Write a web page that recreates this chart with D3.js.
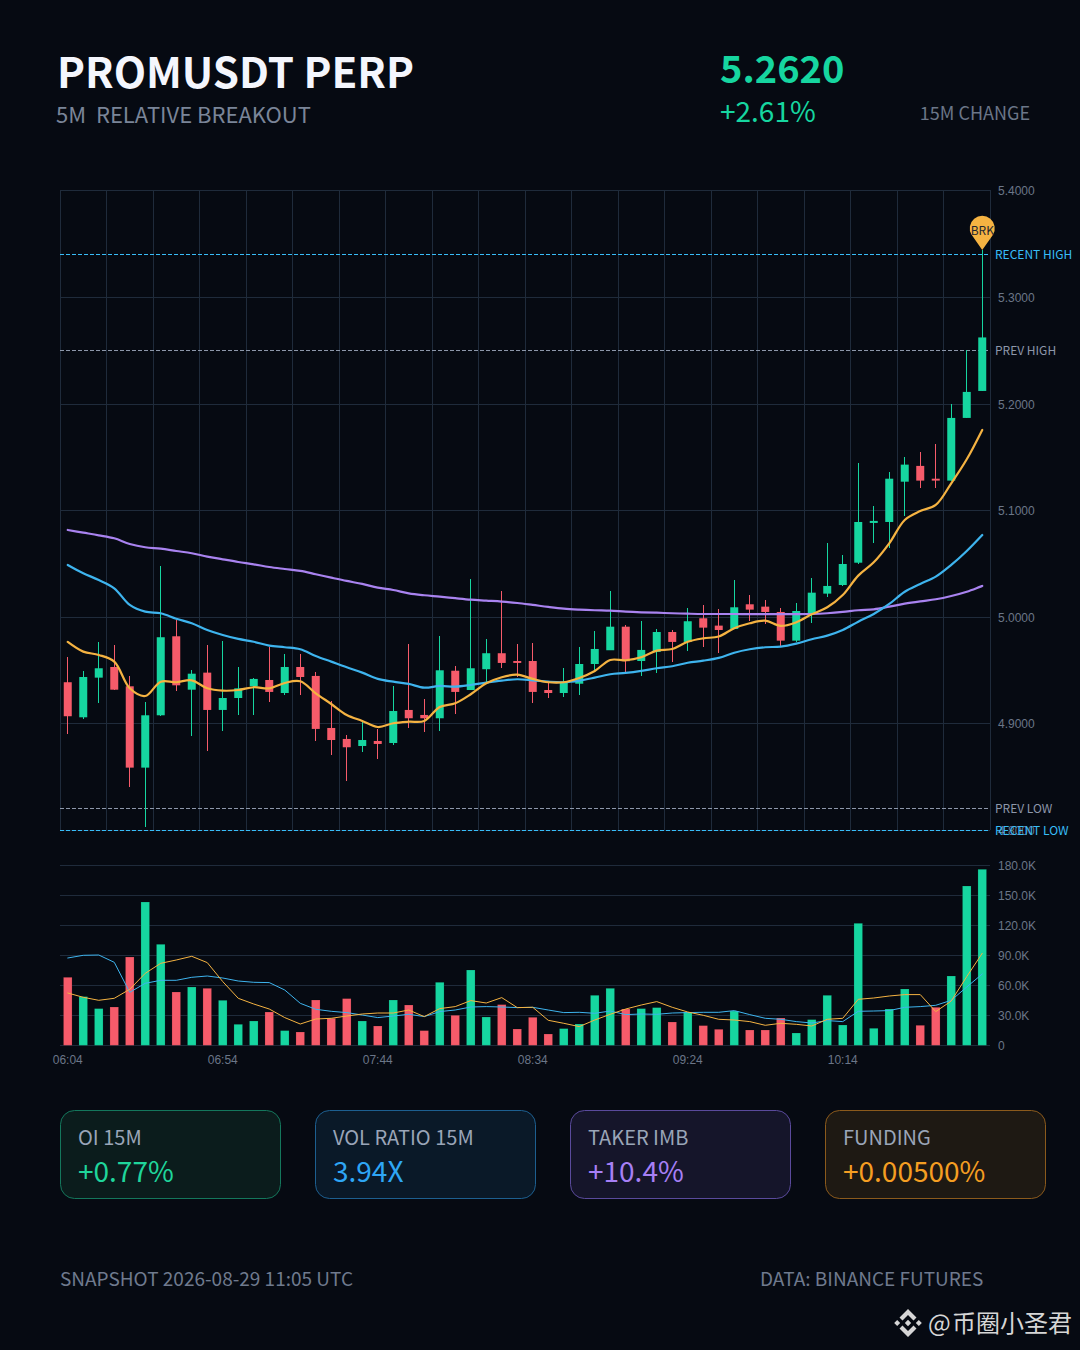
<!DOCTYPE html>
<html>
<head>
<meta charset="utf-8">
<script src="https://cdn.jsdelivr.net/npm/d3@7"></script>
<style>
  html, body { margin: 0; padding: 0; background: #060a12; }
  svg { display: block; font-family: "Noto Sans CJK SC", "Noto Sans", sans-serif; }
</style>
</head>
<body>
<div id="chart"></div>
<script>
// ------------------------------- DATA ------------------------------------
var times = ['06:04','06:09','06:14','06:19','06:24','06:29','06:34','06:39','06:44','06:49',
  '06:54','06:59','07:04','07:09','07:14','07:19','07:24','07:29','07:34','07:39',
  '07:44','07:49','07:54','07:59','08:04','08:09','08:14','08:19','08:24','08:29',
  '08:34','08:39','08:44','08:49','08:54','08:59','09:04','09:09','09:14','09:19',
  '09:24','09:29','09:34','09:39','09:44','09:49','09:54','09:59','10:04','10:09',
  '10:14','10:19','10:24','10:29','10:34','10:39','10:44','10:49','10:54','10:59'];
var timeLabels = ['06:04','06:54','07:44','08:34','09:24','10:14'];

var opens = [4.9386,4.9057,4.9429,4.9529,4.9348,4.8585,4.9076,4.9817,4.9316,4.9476,
  4.9126,4.9238,4.9348,4.9407,4.9285,4.9529,4.9445,4.8957,4.8854,4.8788,
  4.8835,4.8816,4.9126,4.9079,4.9048,4.9494,4.9313,4.9508,4.9658,4.9585,
  4.9585,4.9313,4.9285,4.9372,4.9557,4.9686,4.9907,4.9585,4.9670,4.9857,
  4.9764,4.9986,4.9917,4.9886,5.0117,5.0095,5.0045,4.9776,5.0026,5.0217,
  5.0298,5.0507,5.0880,5.0889,5.1267,5.1415,5.1295,5.1277,5.1865,5.2118];
var highs = [4.9623,4.9492,4.9764,4.9733,4.9445,4.9201,5.0474,4.9970,4.9501,4.9733,
  4.9770,4.9529,4.9426,4.9717,4.9651,4.9651,4.9482,4.9210,4.8891,4.9023,
  4.8945,4.9351,4.9745,4.9229,4.9820,4.9541,5.0355,4.9792,5.0242,4.9745,
  4.9751,4.9388,4.9520,4.9714,4.9864,5.0242,4.9923,4.9961,4.9883,4.9876,
  5.0083,5.0111,5.0073,5.0345,5.0204,5.0155,5.0083,5.0132,5.0364,5.0692,
  5.0580,5.1443,5.1042,5.1361,5.1502,5.1543,5.1621,5.1993,5.2500,5.3440];
var lows = [4.8903,4.9041,4.9191,4.9316,4.8401,4.8031,4.9072,4.9301,4.8882,4.8744,
  4.8932,4.9079,4.9079,4.9201,4.9269,4.9269,4.8838,4.8706,4.8460,4.8732,
  4.8669,4.8797,4.8960,4.8919,4.8929,4.9088,4.9313,4.9388,4.9520,4.9433,
  4.9191,4.9238,4.9248,4.9269,4.9501,4.9686,4.9470,4.9442,4.9473,4.9579,
  4.9679,4.9720,4.9663,4.9886,4.9961,4.9932,4.9729,4.9764,4.9945,5.0183,
  5.0289,5.0495,5.0695,5.0648,5.0943,5.1211,5.1211,5.1277,5.1865,5.2118];
var closes = [4.9067,4.9435,4.9517,4.9316,4.8585,4.9076,4.9808,4.9357,4.9466,4.9126,
  4.9238,4.9329,4.9417,4.9295,4.9529,4.9435,4.8948,4.8844,4.8776,4.8844,
  4.8807,4.9116,4.9048,4.9048,4.9498,4.9295,4.9517,4.9658,4.9567,4.9567,
  4.9295,4.9285,4.9388,4.9557,4.9698,4.9907,4.9583,4.9689,4.9857,4.9764,
  4.9958,4.9898,4.9876,5.0089,5.0067,5.0045,4.9776,5.0054,5.0226,5.0289,
  5.0495,5.0889,5.0899,5.1295,5.1427,5.1277,5.1277,5.1865,5.2109,5.2620];

var emaFast = [4.9764,4.9673,4.9642,4.9579,4.9329,4.9257,4.9391,4.9386,4.9404,4.9329,
  4.9307,4.9313,4.9339,4.9329,4.9379,4.9395,4.9282,4.9182,4.9079,4.9023,
  4.8966,4.9001,4.9016,4.9023,4.9154,4.9189,4.9273,4.9376,4.9433,4.9457,
  4.9417,4.9386,4.9386,4.9426,4.9492,4.9595,4.9592,4.9620,4.9682,4.9698,
  4.9766,4.9798,4.9815,4.9892,4.9939,4.9963,4.9914,4.9948,5.0023,5.0089,
  5.0204,5.0386,5.0511,5.0689,5.0908,5.0992,5.1049,5.1252,5.1477,5.1752];
var emaMid = [5.0486,5.0408,5.0345,5.0267,5.0111,5.0048,5.0033,4.9982,4.9939,4.9876,
  4.9829,4.9792,4.9766,4.9729,4.9714,4.9695,4.9632,4.9579,4.9526,4.9476,
  4.9417,4.9391,4.9370,4.9335,4.9351,4.9344,4.9360,4.9382,4.9401,4.9414,
  4.9404,4.9391,4.9386,4.9401,4.9429,4.9461,4.9473,4.9492,4.9517,4.9536,
  4.9569,4.9588,4.9614,4.9663,4.9695,4.9714,4.9720,4.9748,4.9789,4.9823,
  4.9876,4.9954,5.0026,5.0120,5.0235,5.0308,5.0376,5.0486,5.0617,5.0767];
var emaSlow = [5.0814,5.0789,5.0764,5.0736,5.0683,5.0652,5.0639,5.0617,5.0596,5.0564,
  5.0539,5.0514,5.0492,5.0467,5.0448,5.0430,5.0399,5.0367,5.0336,5.0308,
  5.0273,5.0251,5.0220,5.0202,5.0189,5.0174,5.0160,5.0151,5.0142,5.0129,
  5.0111,5.0092,5.0076,5.0067,5.0061,5.0057,5.0048,5.0042,5.0038,5.0033,
  5.0029,5.0026,5.0026,5.0026,5.0025,5.0025,5.0025,5.0025,5.0026,5.0033,
  5.0045,5.0061,5.0070,5.0095,5.0123,5.0145,5.0164,5.0195,5.0235,5.0289];

var volumes = [68,48.7,36.7,38.3,88.3,143.3,101,53.3,58.3,57,
  45,21,24.3,33.3,14.7,13.3,45.3,27,46.7,24.3,
  19.3,45.3,40.3,14.7,63,30,75.3,28.3,40.7,16.3,
  28,11.3,16.7,21.3,50,57,36.3,36.7,37.7,23.3,
  33.3,19.7,16,34.3,15.3,15.3,27.3,12.3,25.7,50,
  20.3,122,17,36.3,56.3,20,38,69.3,159.3,176];
var volFast = [52.3,48,45,47,56,72,82,85.3,89,82.7,
  63.7,47,41.3,36.3,27.7,21.3,26.3,27,29.3,31.3,
  32.3,32.3,35.3,28.7,36.7,38.7,44.7,42.3,47.7,37.7,
  38,25,22,18.7,25.3,31,36.3,40.3,43.7,38,
  33.3,30,26,25.3,23.7,20,22,21,19.3,26,
  27,46,47.3,49.3,50.7,50.7,33.7,44.3,68.7,92];
var volSlow = [87.3,90,90.3,83,53,62,65,65,68,69.3,
  67.3,64.3,63,62.7,55.3,42,36,34,32.7,30.3,
  27.7,29.3,31,28.7,33.7,35.3,38.3,38.7,38.3,37.7,
  38,35.3,32.7,33,32,34.3,30.7,31.3,31,32.3,
  32.7,33,33,34.7,30.7,27,26,23.7,22.3,24.7,
  23.7,34,34.3,34.7,38,38.7,40,45,58.3,71.3];

var priceTicks = [4.8,4.9,5.0,5.1,5.2,5.3,5.4];
var volTicks = [0,30,60,90,120,150,180];

var levelNames = ['RECENT HIGH','PREV HIGH','PREV LOW','RECENT LOW'];
var levelValues = [5.34,5.25,4.8202,4.80];
var levelColors = ['#38bdf8','#8d97aa','#8d97aa','#38bdf8'];

var cardLabels = ['OI 15M','VOL RATIO 15M','TAKER IMB','FUNDING'];
var cardValues = ['+0.77%','3.94X','+10.4%','+0.00500%'];
var cardColors = ['#1fd59b','#2ea6f5','#a67ff5','#f59e22'];
var cardFills = ['#0b1c1c','#0a1928','#15152a','#1e1913'];
var cardBorders = ['#14775c','#1d5f90','#5a4a9c','#8b5a1c'];

// ------------------------------- SETUP ------------------------------------
var green = '#16d6a0', red = '#f65b6a', gridColor = '#1f2b3b', axisText = '#6b7688';
var left = 60, right = 990;

var svg = d3.select('#chart').append('svg').attr('width', 1080).attr('height', 1350);
svg.append('rect').attr('width', 1080).attr('height', 1350).attr('fill', '#060a12');

// ------------------------------- SCALES ------------------------------------
var x = d3.scaleBand().domain(times).range([left, right]);
var y = d3.scaleLinear().domain([4.8, 5.4]).range([830, 190.3]);
var yVol = d3.scaleLinear().domain([0, 180]).range([1045.3, 865.3]);

function cx(i) { return x(times[i]) + x.bandwidth() / 2; }
function isUp(i) { return closes[i] >= opens[i]; }

// ------------------------------- HEADER ------------------------------------
function label(txt, tx, ty, size, color, weight, anchor) {
  return svg.append('text').attr('x', tx).attr('y', ty).text(txt)
    .attr('font-size', size).attr('fill', color)
    .attr('font-weight', weight || 400).attr('text-anchor', anchor || 'start')
    .style('white-space', 'pre');
}
label('PROMUSDT PERP', 57, 87.5, 42, '#f4f6fd', 700);
label('5M  RELATIVE BREAKOUT', 56, 123, 22, '#7a8598', 400);
label('5.2620', 720, 83, 38, green, 700);
label('+2.61%', 720, 122, 28, green, 400);
label('15M CHANGE', 1030, 120, 18, axisText, 400, 'end');

// ------------------------------- GRID ------------------------------------
var gridX = times.filter(function(d, i) { return i % 3 === 0; });
svg.append('g').selectAll('line').data(gridX).enter().append('line')
  .attr('x1', function(d) { return x(d); }).attr('x2', function(d) { return x(d); })
  .attr('y1', y(5.4)).attr('y2', y(4.8))
  .attr('stroke', gridColor).attr('stroke-width', 1).attr('shape-rendering', 'crispEdges');
svg.append('line').attr('x1', right).attr('x2', right).attr('y1', y(5.4)).attr('y2', y(4.8))
  .attr('stroke', gridColor).attr('shape-rendering', 'crispEdges');

// price axis with full width tick lines
var priceAxis = d3.axisRight(y).tickValues(priceTicks).tickFormat(d3.format('.4f'))
  .tickSize(-(right - left)).tickPadding(8);
var gPrice = svg.append('g').attr('transform', 'translate(' + right + ',0)').call(priceAxis);
gPrice.select('.domain').remove();
gPrice.selectAll('line').attr('stroke', gridColor).attr('shape-rendering', 'crispEdges');
gPrice.selectAll('text').attr('fill', axisText).attr('font-size', 12).attr('font-family', 'inherit')
  .attr('dy', '0.38em');

// ------------------------------- LEVELS ------------------------------------
levelNames.forEach(function(name, i) {
  svg.append('line').attr('x1', left).attr('x2', right)
    .attr('y1', y(levelValues[i])).attr('y2', y(levelValues[i]))
    .attr('stroke', levelColors[i]).attr('stroke-width', 1).attr('stroke-dasharray', '4,2')
    .attr('shape-rendering', 'crispEdges');
  label(name, 995, y(levelValues[i]) + 5, 12, levelColors[i]);
});

// ------------------------------- CANDLES ------------------------------------
var idx = d3.range(times.length);
var candles = svg.append('g');
candles.selectAll('line').data(idx).enter().append('line')
  .attr('x1', cx).attr('x2', cx)
  .attr('y1', function(i) { return y(highs[i]); })
  .attr('y2', function(i) { return y(lows[i]); })
  .attr('stroke', function(i) { return isUp(i) ? green : red; })
  .attr('stroke-width', 1).attr('shape-rendering', 'crispEdges');
candles.selectAll('rect').data(idx).enter().append('rect')
  .attr('x', function(i) { return cx(i) - 4; })
  .attr('width', 8)
  .attr('y', function(i) { return y(Math.max(opens[i], closes[i])); })
  .attr('height', function(i) { return Math.max(1, Math.abs(y(opens[i]) - y(closes[i]))); })
  .attr('fill', function(i) { return isUp(i) ? green : red; });

// ------------------------------- MA LINES ------------------------------------
function maLine(series, scale, color, width, curve) {
  var line = d3.line().x(function(d, i) { return cx(i); }).y(function(d) { return scale(d); });
  if (curve) line.curve(curve);
  svg.append('path').attr('d', line(series)).attr('fill', 'none')
    .attr('stroke', color).attr('stroke-width', width)
    .attr('stroke-linejoin', 'round').attr('stroke-linecap', 'round');
}
maLine(emaSlow, y, '#a983f0', 2.2, d3.curveCatmullRom);
maLine(emaMid, y, '#3eb4ee', 2.2, d3.curveCatmullRom);
maLine(emaFast, y, '#f5b342', 2.2, d3.curveCatmullRom);

// ------------------------------- BREAKOUT PIN ------------------------------------
var pinX = cx(times.length - 1), pinY = y(highs[times.length - 1]);
var pin = svg.append('g').attr('transform', 'translate(' + pinX + ',' + pinY + ')');
var pinPath = d3.path();
pinPath.moveTo(0, 0);
pinPath.lineTo(-10.8, -15.5);
pinPath.arc(0, -21.7, 12.5, Math.PI * 0.83, Math.PI * 0.17);
pinPath.closePath();
pin.append('path').attr('d', pinPath.toString()).attr('fill', '#f5b342');
pin.append('text').attr('y', -15.5).attr('text-anchor', 'middle').attr('font-size', 12)
  .attr('fill', '#1f2630').text('BRK');

// ------------------------------- VOLUME ------------------------------------
var volAxis = d3.axisRight(yVol).tickValues(volTicks)
  .tickFormat(function(d) { return d === 0 ? '0' : d3.format('.1f')(d) + 'K'; })
  .tickSize(-(right - left)).tickPadding(8);
var gVol = svg.append('g').attr('transform', 'translate(' + right + ',0)').call(volAxis);
gVol.select('.domain').remove();
gVol.selectAll('line').attr('stroke', gridColor).attr('shape-rendering', 'crispEdges');
gVol.selectAll('text').attr('fill', axisText).attr('font-size', 12).attr('font-family', 'inherit');

svg.append('g').selectAll('rect').data(idx).enter().append('rect')
  .attr('x', function(i) { return cx(i) - 4.3; })
  .attr('width', 8.6)
  .attr('y', function(i) { return yVol(volumes[i]); })
  .attr('height', function(i) { return yVol(0) - yVol(volumes[i]); })
  .attr('fill', function(i) { return isUp(i) ? green : red; })
  .attr('stroke', '#000').attr('stroke-opacity', 0.2).attr('stroke-width', 0.8);

maLine(volSlow, yVol, '#3eb4ee', 1);
maLine(volFast, yVol, '#f5b342', 1);

var timeAxis = d3.axisBottom(x).tickValues(timeLabels).tickSize(0).tickPadding(9);
var gTime = svg.append('g').attr('transform', 'translate(0,1046)').call(timeAxis);
gTime.select('.domain').remove();
gTime.selectAll('text').attr('fill', axisText).attr('font-size', 12).attr('font-family', 'inherit');

// ------------------------------- CARDS ------------------------------------
cardLabels.forEach(function(name, i) {
  var bx = 60 + 255 * i;
  svg.append('rect').attr('x', bx + 0.5).attr('y', 1110.5).attr('width', 220).attr('height', 88)
    .attr('rx', 14).attr('fill', cardFills[i]).attr('stroke', cardBorders[i]);
  label(name, bx + 18, 1145, 20, '#9aa5b8');
  label(cardValues[i], bx + 18, 1181.5, 28, cardColors[i]);
});

// ------------------------------- FOOTER ------------------------------------
label('SNAPSHOT 2026-08-29 11:05 UTC', 60, 1286, 19, '#6f7a8e');
label('DATA: BINANCE FUTURES', 760, 1286, 19, '#6f7a8e');

// watermark
var logo = svg.append('g').attr('transform', 'translate(908,1323)').attr('fill', '#d6d6d6');
var logoShapes = ['M0,-14L8.5,-5.5L5.5,-2.5L0,-8L-5.5,-2.5L-8.5,-5.5Z', 'M0,14L8.5,5.5L5.5,2.5L0,8L-5.5,2.5L-8.5,5.5Z',
  'M0,-3.2L3.2,0L0,3.2L-3.2,0Z', 'M-10.8,-3L-7.8,0L-10.8,3L-13.8,0Z', 'M10.8,-3L13.8,0L10.8,3L7.8,0Z'];
logo.selectAll('path').data(logoShapes).enter().append('path').attr('d', function(d) { return d; });
label('@ 币圈小圣君', 928, 1332, 24, '#d6d6d6').style('word-spacing', '-4px');
</script>
</body>
</html>
